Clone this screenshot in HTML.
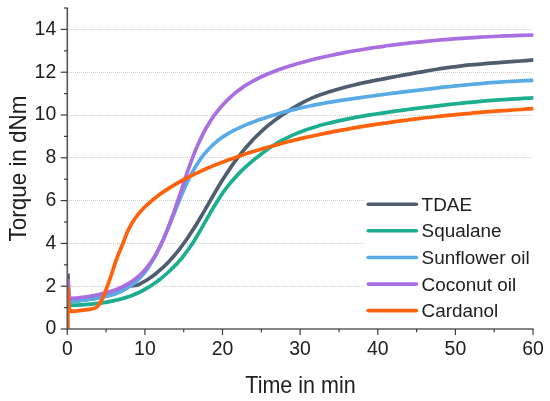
<!DOCTYPE html>
<html><head><meta charset="utf-8"><title>Torque vs Time</title>
<style>html,body{margin:0;padding:0;background:#fff}svg{display:block}text{font-family:"Liberation Sans",Arial,Helvetica,sans-serif;fill:#202020}</style></head><body>
<svg width="550" height="401" viewBox="0 0 550 401">
<rect width="550" height="401" fill="#fff"/>
<g stroke="#cdcdcd" stroke-width="1" stroke-dasharray="1 1" fill="none"><line x1="69.0" y1="286.5" x2="533.0" y2="286.5"/><line x1="69.0" y1="243.5" x2="533.0" y2="243.5"/><line x1="69.0" y1="200.5" x2="533.0" y2="200.5"/><line x1="69.0" y1="157.5" x2="533.0" y2="157.5"/><line x1="69.0" y1="115.5" x2="533.0" y2="115.5"/><line x1="69.0" y1="72.5" x2="533.0" y2="72.5"/><line x1="69.0" y1="29.5" x2="533.0" y2="29.5"/></g>
<defs><clipPath id="plotclip"><rect x="67.3" y="8" width="466.0" height="321.0"/></clipPath></defs>
<g clip-path="url(#plotclip)">
<path d="M67.9 273.6 L68.8 296.0 L69.8 301.5 C71.6 301.3 76.2 300.9 80.5 300.3 C84.9 299.8 90.7 299.3 96.0 298.3 C101.3 297.3 108.7 295.5 112.4 294.5 C116.1 293.5 116.4 293.1 118.4 292.3 C120.3 291.5 122.3 290.6 124.2 289.5 C126.1 288.5 127.9 286.7 130.0 286.0 C132.1 285.3 134.7 285.8 136.8 285.2 C138.9 284.6 140.6 283.5 142.6 282.4 C144.7 281.3 146.7 280.1 148.8 278.7 C150.9 277.3 152.9 275.9 155.1 274.2 C157.2 272.5 159.4 270.7 161.6 268.7 C163.8 266.7 166.1 264.5 168.3 262.2 C170.5 259.8 173.2 256.8 175.0 254.7 C176.8 252.5 177.3 252.0 179.4 249.3 C181.4 246.6 184.8 242.1 187.4 238.3 C189.9 234.6 192.5 230.5 194.9 226.8 C197.2 223.1 199.0 219.9 201.4 216.0 C203.7 212.1 206.3 207.5 208.7 203.3 C211.1 199.1 213.5 194.9 216.0 190.7 C218.5 186.5 221.0 182.3 223.6 178.3 C226.2 174.2 229.1 169.8 231.6 166.1 C234.1 162.5 236.3 159.6 238.6 156.6 C240.8 153.6 243.1 150.9 245.3 148.3 C247.5 145.7 250.2 142.7 251.8 140.9 C253.4 139.1 253.3 139.3 254.9 137.7 C256.5 136.1 259.3 133.3 261.5 131.3 C263.7 129.3 265.8 127.5 267.9 125.7 C269.9 124.0 271.9 122.5 273.9 120.9 C276.0 119.4 278.3 117.7 280.1 116.4 C282.0 115.1 281.9 115.0 285.0 113.1 C288.0 111.1 294.1 107.2 298.4 104.8 C302.8 102.4 307.0 100.3 311.2 98.4 C315.4 96.6 320.5 94.8 323.6 93.7 C326.7 92.5 326.6 92.6 329.7 91.6 C332.9 90.7 338.1 89.1 342.3 88.0 C346.6 86.8 350.9 85.7 355.2 84.7 C359.5 83.7 363.8 82.8 368.1 81.9 C372.4 81.0 376.6 80.2 380.9 79.4 C385.2 78.5 390.5 77.5 393.7 76.9 C396.9 76.3 396.9 76.3 400.1 75.7 C403.3 75.1 408.6 74.1 412.9 73.4 C417.2 72.6 421.5 71.8 425.8 71.1 C430.0 70.4 434.2 69.7 438.4 69.0 C442.6 68.4 446.8 67.7 451.0 67.2 C455.2 66.6 460.5 66.0 463.6 65.6 C466.8 65.2 466.8 65.2 470.0 64.9 C473.1 64.6 478.3 64.1 482.6 63.8 C486.8 63.4 491.1 63.1 495.3 62.8 C499.6 62.5 503.8 62.2 508.0 61.9 C512.3 61.6 516.5 61.3 520.8 61.0 C525.1 60.6 531.8 60.1 534.0 59.9" fill="none" stroke="#4F5D6E" stroke-width="3.7" stroke-linejoin="round" stroke-linecap="butt"/>
<path d="M67.9 288.0 L68.8 301.0 L70.5 305.2 C72.1 305.1 76.1 305.1 80.3 304.8 C84.4 304.5 91.3 304.1 95.5 303.6 C99.7 303.2 101.8 302.9 105.6 302.3 C109.4 301.7 114.0 300.8 118.1 299.8 C122.3 298.7 126.5 297.5 130.7 296.0 C134.8 294.4 138.9 292.7 143.0 290.5 C147.1 288.2 152.2 284.9 155.4 282.7 C158.6 280.5 160.0 279.2 162.2 277.5 C164.4 275.7 166.3 274.0 168.5 272.0 C170.7 269.9 173.6 267.0 175.2 265.4 C176.8 263.8 176.9 263.7 178.1 262.4 C179.3 261.0 180.4 260.0 182.5 257.3 C184.6 254.5 188.2 249.8 190.9 245.8 C193.6 241.8 196.4 237.0 198.7 233.2 C201.0 229.3 203.0 225.7 204.7 222.7 C206.5 219.7 207.4 217.9 209.1 215.0 C210.8 212.1 212.5 208.9 214.8 205.3 C217.1 201.6 220.1 196.7 222.7 193.0 C225.4 189.3 227.4 186.5 230.4 182.9 C233.5 179.4 237.6 174.8 240.9 171.4 C244.2 168.1 248.0 164.8 250.3 162.8 C252.5 160.8 252.5 160.9 254.4 159.4 C256.2 158.0 259.1 155.7 261.3 154.0 C263.5 152.3 265.4 150.8 267.6 149.3 C269.7 147.8 272.1 146.2 274.3 144.8 C276.5 143.4 277.7 142.6 280.8 141.0 C284.0 139.3 289.2 136.7 293.3 134.9 C297.5 133.0 301.5 131.5 305.7 130.0 C309.8 128.5 315.0 127.0 318.1 126.0 C321.2 125.1 321.2 125.1 324.4 124.3 C327.6 123.5 333.0 122.1 337.3 121.1 C341.6 120.1 346.0 119.3 350.3 118.4 C354.6 117.6 358.8 116.8 363.1 116.1 C367.4 115.3 371.7 114.7 376.0 114.0 C380.2 113.4 385.6 112.6 388.8 112.1 C392.0 111.7 392.0 111.7 395.2 111.2 C398.4 110.8 403.7 110.1 408.0 109.5 C412.2 108.9 416.6 108.4 420.8 107.8 C425.1 107.3 429.3 106.8 433.5 106.3 C437.7 105.8 441.9 105.3 446.1 104.8 C450.3 104.4 454.7 103.9 458.6 103.5 C462.6 103.1 465.9 102.7 469.9 102.4 C473.9 102.0 478.3 101.6 482.5 101.2 C486.7 100.9 491.0 100.5 495.2 100.2 C499.5 99.9 503.7 99.6 507.9 99.3 C512.2 99.0 516.4 98.8 520.7 98.6 C525.1 98.3 531.8 98.0 534.0 97.9" fill="none" stroke="#1DAE8F" stroke-width="3.7" stroke-linejoin="round" stroke-linecap="butt"/>
<path d="M67.9 283.0 L68.8 297.0 L69.8 301.7 C71.6 301.5 76.2 301.1 80.5 300.5 C84.9 300.0 90.7 299.5 96.0 298.5 C101.3 297.5 108.7 295.7 112.4 294.7 C116.1 293.7 116.4 293.3 118.4 292.5 C120.3 291.7 122.3 290.8 124.2 289.7 C126.1 288.7 128.0 287.6 130.0 286.2 C132.0 284.9 134.0 283.4 136.1 281.4 C138.3 279.5 140.7 277.1 142.7 274.7 C144.7 272.4 146.1 270.6 148.2 267.6 C150.3 264.5 152.8 260.5 155.1 256.4 C157.3 252.2 160.3 245.8 161.9 242.6 C163.4 239.5 163.2 239.8 164.3 237.2 C165.4 234.6 167.1 230.8 168.7 227.0 C170.2 223.2 171.9 218.9 173.7 214.5 C175.5 210.1 177.5 204.8 179.2 200.7 C180.9 196.7 181.9 194.0 183.6 190.2 C185.4 186.3 187.4 181.7 189.5 177.6 C191.6 173.5 194.0 169.2 196.3 165.5 C198.5 161.9 200.8 158.6 203.0 155.7 C205.2 152.9 207.4 150.4 209.5 148.2 C211.6 146.0 213.6 144.1 215.7 142.4 C217.8 140.6 219.8 139.1 221.9 137.6 C224.0 136.1 226.1 134.8 228.2 133.6 C230.3 132.4 232.3 131.3 234.4 130.2 C236.5 129.1 238.7 128.1 240.8 127.1 C243.0 126.1 244.8 125.3 247.1 124.4 C249.4 123.4 252.7 122.2 254.8 121.4 C256.9 120.6 257.7 120.3 259.8 119.6 C262.0 118.8 265.5 117.6 267.6 116.9 C269.8 116.2 270.6 116.0 272.7 115.3 C274.9 114.7 278.4 113.6 280.6 113.0 C282.7 112.4 282.7 112.4 285.6 111.6 C288.6 110.8 294.2 109.4 298.4 108.4 C302.6 107.4 306.8 106.5 311.0 105.7 C315.2 104.8 320.4 103.9 323.6 103.3 C326.7 102.7 326.7 102.7 329.9 102.2 C333.1 101.6 338.3 100.8 342.5 100.1 C346.7 99.5 351.0 98.9 355.3 98.3 C359.5 97.7 363.7 97.1 368.0 96.5 C372.2 96.0 376.4 95.4 380.7 94.9 C384.9 94.3 390.2 93.6 393.4 93.2 C396.6 92.8 396.6 92.8 399.8 92.4 C403.0 92.0 408.4 91.3 412.6 90.8 C416.9 90.3 421.3 89.8 425.5 89.3 C429.8 88.8 434.1 88.3 438.3 87.8 C442.6 87.3 446.8 86.8 451.1 86.4 C455.3 85.9 460.6 85.4 463.8 85.1 C467.0 84.8 467.0 84.8 470.2 84.5 C473.4 84.2 478.7 83.7 482.9 83.4 C487.2 83.0 491.5 82.7 495.7 82.4 C500.0 82.1 504.2 81.8 508.4 81.5 C512.6 81.3 516.7 81.0 521.0 80.8 C525.3 80.6 531.8 80.4 534.0 80.3" fill="none" stroke="#58ABE4" stroke-width="3.7" stroke-linejoin="round" stroke-linecap="butt"/>
<path d="M67.9 279.0 L68.8 294.0 L69.8 298.6 C71.5 298.4 75.8 298.1 80.1 297.5 C84.4 297.0 90.2 296.3 95.5 295.2 C100.8 294.1 108.3 292.1 112.0 291.0 C115.8 289.9 116.1 289.6 118.2 288.8 C120.2 287.9 122.2 287.0 124.1 286.0 C126.1 285.0 128.5 283.6 130.1 282.6 C131.7 281.7 131.7 281.7 133.5 280.3 C135.4 278.8 138.6 276.2 141.0 274.0 C143.3 271.8 145.1 269.8 147.4 266.8 C149.8 263.9 152.4 260.1 154.8 256.1 C157.2 252.0 159.8 247.0 161.8 242.7 C163.9 238.3 165.4 234.7 167.2 230.1 C169.0 225.6 171.0 220.3 172.7 215.4 C174.5 210.6 176.3 205.2 177.8 200.8 C179.3 196.4 180.4 193.0 181.8 189.0 C183.1 184.9 184.6 180.4 185.9 176.4 C187.2 172.5 188.0 169.9 189.8 165.2 C191.5 160.5 194.2 153.3 196.4 148.1 C198.7 142.8 201.3 137.4 203.2 133.6 C205.0 129.9 205.8 128.5 207.7 125.5 C209.5 122.4 212.1 118.4 214.3 115.3 C216.5 112.2 218.6 109.6 221.0 106.9 C223.3 104.1 226.1 101.2 228.6 98.8 C231.1 96.4 233.5 94.4 235.9 92.4 C238.3 90.4 240.9 88.6 243.2 87.0 C245.5 85.5 246.4 84.8 249.6 83.0 C252.8 81.2 258.1 78.3 262.4 76.3 C266.7 74.3 271.0 72.5 275.3 70.9 C279.6 69.2 283.9 67.8 288.2 66.4 C292.5 65.1 296.7 63.8 301.0 62.7 C305.2 61.5 310.5 60.1 313.7 59.3 C316.9 58.5 316.9 58.5 320.1 57.8 C323.2 57.1 328.6 55.9 332.8 55.0 C337.1 54.1 341.3 53.2 345.6 52.4 C349.8 51.6 354.1 50.9 358.3 50.2 C362.5 49.5 366.7 48.8 370.9 48.1 C375.1 47.5 380.4 46.7 383.6 46.3 C386.7 45.8 386.8 45.8 389.9 45.4 C393.1 45.0 398.4 44.3 402.6 43.8 C406.9 43.3 411.2 42.8 415.5 42.4 C419.7 41.9 423.9 41.5 428.2 41.1 C432.4 40.7 436.7 40.3 440.9 39.9 C445.1 39.6 450.4 39.2 453.6 38.9 C456.8 38.7 455.6 38.7 460.0 38.4 C464.4 38.2 473.4 37.6 480.0 37.2 C486.7 36.8 493.4 36.5 500.0 36.2 C506.7 35.9 514.4 35.6 520.0 35.4 C525.7 35.2 531.7 35.1 534.0 35.0" fill="none" stroke="#A96EE0" stroke-width="3.7" stroke-linejoin="round" stroke-linecap="butt"/>
<path d="M67.9 330.0 L67.9 288.3 L68.9 306.0 L70.0 311.4 C71.7 311.3 77.1 310.9 80.0 310.6 C82.9 310.3 85.2 310.0 87.5 309.7 C89.8 309.4 92.1 309.1 93.8 308.6 C95.5 308.1 96.4 307.5 97.5 306.5 C98.6 305.5 99.1 304.7 100.2 302.8 C101.3 300.9 103.0 297.4 104.0 295.0 C105.0 292.6 105.5 291.1 106.5 288.5 C107.5 285.9 108.7 282.4 109.7 279.6 C110.7 276.9 111.2 275.4 112.3 272.0 C113.4 268.6 114.7 264.2 116.4 259.5 C118.1 254.8 120.8 248.8 122.7 244.0 C124.6 239.2 126.1 234.7 127.8 231.0 C129.5 227.3 130.8 224.9 132.7 222.0 C134.6 219.0 137.0 215.8 139.1 213.2 C141.2 210.6 143.4 208.4 145.5 206.3 C147.6 204.2 149.6 202.5 151.8 200.7 C153.9 198.9 156.0 197.3 158.2 195.6 C160.4 194.0 162.2 192.7 164.9 190.9 C167.7 189.1 171.5 186.7 174.8 184.7 C178.1 182.7 181.5 180.8 184.9 179.0 C188.3 177.2 191.7 175.5 195.0 173.9 C198.4 172.3 201.4 170.9 204.9 169.3 C208.5 167.8 212.2 166.2 216.1 164.6 C220.1 163.0 224.5 161.4 228.7 159.8 C232.8 158.3 236.7 157.0 241.0 155.5 C245.4 154.0 250.6 152.4 255.0 151.0 C259.5 149.6 263.5 148.4 267.8 147.2 C272.1 146.0 276.4 144.8 280.6 143.7 C284.9 142.5 289.1 141.5 293.3 140.4 C297.5 139.4 301.7 138.4 305.9 137.4 C310.1 136.5 315.3 135.4 318.5 134.7 C321.6 134.0 321.6 134.0 324.8 133.4 C328.0 132.7 333.3 131.7 337.6 130.9 C341.9 130.1 346.2 129.3 350.4 128.6 C354.7 127.8 358.9 127.1 363.1 126.4 C367.4 125.7 371.6 125.1 375.8 124.4 C380.0 123.8 385.3 123.0 388.5 122.6 C391.7 122.1 391.7 122.1 394.9 121.7 C398.1 121.3 403.4 120.6 407.6 120.0 C411.9 119.5 416.2 118.9 420.5 118.4 C424.8 117.9 429.0 117.4 433.3 117.0 C437.5 116.5 441.8 116.0 446.0 115.6 C450.3 115.2 454.7 114.7 458.7 114.3 C462.7 114.0 466.1 113.6 470.1 113.3 C474.1 112.9 478.5 112.6 482.8 112.2 C487.0 111.9 491.4 111.5 495.6 111.2 C499.9 110.9 504.1 110.6 508.3 110.3 C512.5 110.0 516.7 109.7 521.0 109.5 C525.2 109.2 531.8 108.8 534.0 108.7" fill="none" stroke="#FF620A" stroke-width="3.7" stroke-linejoin="round" stroke-linecap="butt"/>
</g>
<rect x="364" y="188" width="186" height="135" fill="#fff"/>
<line x1="368.2" y1="204.2" x2="416.4" y2="204.2" stroke="#4F5D6E" stroke-width="3.6" stroke-linecap="round"/>
<text x="421.6" y="210.8" font-size="18.9">TDAE</text>
<line x1="368.2" y1="230.8" x2="416.4" y2="230.8" stroke="#1DAE8F" stroke-width="3.6" stroke-linecap="round"/>
<text x="421.6" y="237.4" font-size="18.9">Squalane</text>
<line x1="368.2" y1="257.5" x2="416.4" y2="257.5" stroke="#58ABE4" stroke-width="3.6" stroke-linecap="round"/>
<text x="421.6" y="264.1" font-size="18.9">Sunflower oil</text>
<line x1="368.2" y1="284.1" x2="416.4" y2="284.1" stroke="#A96EE0" stroke-width="3.6" stroke-linecap="round"/>
<text x="421.6" y="290.7" font-size="18.9">Coconut oil</text>
<line x1="368.2" y1="310.6" x2="416.4" y2="310.6" stroke="#FF620A" stroke-width="3.6" stroke-linecap="round"/>
<text x="421.6" y="317.2" font-size="18.9">Cardanol</text>
<path d="M67.3 7.8 V329.0 H533.6" stroke="#5e5e5e" stroke-width="1.7" fill="none" stroke-linejoin="miter"/>
<g stroke="#3c3c3c" stroke-width="1.2" fill="none" stroke-linecap="butt"><line x1="60.7" y1="329.0" x2="67.3" y2="329.0"/><line x1="63.9" y1="307.6" x2="67.3" y2="307.6"/><line x1="60.7" y1="286.2" x2="67.3" y2="286.2"/><line x1="63.9" y1="264.8" x2="67.3" y2="264.8"/><line x1="60.7" y1="243.4" x2="67.3" y2="243.4"/><line x1="63.9" y1="222.0" x2="67.3" y2="222.0"/><line x1="60.7" y1="200.6" x2="67.3" y2="200.6"/><line x1="63.9" y1="179.2" x2="67.3" y2="179.2"/><line x1="60.7" y1="157.8" x2="67.3" y2="157.8"/><line x1="63.9" y1="136.4" x2="67.3" y2="136.4"/><line x1="60.7" y1="115.0" x2="67.3" y2="115.0"/><line x1="63.9" y1="93.6" x2="67.3" y2="93.6"/><line x1="60.7" y1="72.2" x2="67.3" y2="72.2"/><line x1="63.9" y1="50.8" x2="67.3" y2="50.8"/><line x1="60.7" y1="29.4" x2="67.3" y2="29.4"/><line x1="63.9" y1="8.0" x2="67.3" y2="8.0"/><line x1="67.3" y1="329.0" x2="67.3" y2="335.0"/><line x1="106.1" y1="329.0" x2="106.1" y2="332.2"/><line x1="144.9" y1="329.0" x2="144.9" y2="335.0"/><line x1="183.7" y1="329.0" x2="183.7" y2="332.2"/><line x1="222.5" y1="329.0" x2="222.5" y2="335.0"/><line x1="261.3" y1="329.0" x2="261.3" y2="332.2"/><line x1="300.1" y1="329.0" x2="300.1" y2="335.0"/><line x1="339.0" y1="329.0" x2="339.0" y2="332.2"/><line x1="377.8" y1="329.0" x2="377.8" y2="335.0"/><line x1="416.6" y1="329.0" x2="416.6" y2="332.2"/><line x1="455.4" y1="329.0" x2="455.4" y2="335.0"/><line x1="494.2" y1="329.0" x2="494.2" y2="332.2"/><line x1="533.0" y1="329.0" x2="533.0" y2="335.0"/></g>
<text x="56.2" y="334.4" font-size="19.4" text-anchor="end">0</text>
<text x="56.2" y="291.6" font-size="19.4" text-anchor="end">2</text>
<text x="56.2" y="248.8" font-size="19.4" text-anchor="end">4</text>
<text x="56.2" y="206.0" font-size="19.4" text-anchor="end">6</text>
<text x="56.2" y="163.2" font-size="19.4" text-anchor="end">8</text>
<text x="56.2" y="120.4" font-size="19.4" text-anchor="end">10</text>
<text x="56.2" y="77.6" font-size="19.4" text-anchor="end">12</text>
<text x="56.2" y="34.8" font-size="19.4" text-anchor="end">14</text>
<text x="67.3" y="355" font-size="19.4" text-anchor="middle">0</text>
<text x="144.9" y="355" font-size="19.4" text-anchor="middle">10</text>
<text x="222.5" y="355" font-size="19.4" text-anchor="middle">20</text>
<text x="300.1" y="355" font-size="19.4" text-anchor="middle">30</text>
<text x="377.8" y="355" font-size="19.4" text-anchor="middle">40</text>
<text x="455.4" y="355" font-size="19.4" text-anchor="middle">50</text>
<text x="533.0" y="355" font-size="19.4" text-anchor="middle">60</text>
<text x="245.3" y="393.4" font-size="23.6" textLength="110.4" lengthAdjust="spacingAndGlyphs">Time in min</text>
<text transform="translate(26 241.4) rotate(-90)" font-size="24" textLength="145.8" lengthAdjust="spacingAndGlyphs">Torque in dNm</text>
</svg></body></html>
